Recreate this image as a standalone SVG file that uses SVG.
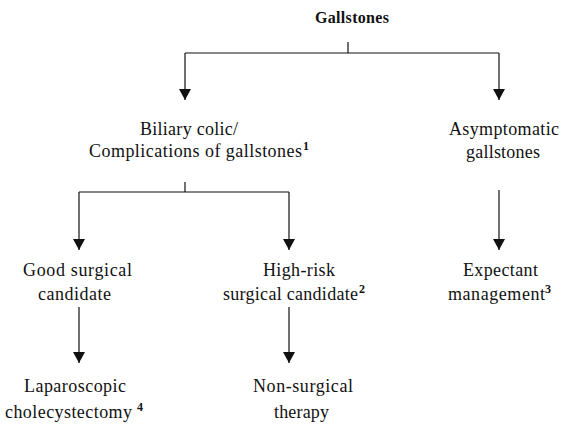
<svg xmlns="http://www.w3.org/2000/svg" width="583" height="432" viewBox="0 0 583 432">
<defs>
<style>
.t{font-family:'Times New Roman','Liberation Serif','DejaVu Serif',serif;fill:#111;font-size:18px}
.b{font-weight:bold;font-size:16px}
.sup{font-weight:bold;font-size:12px}
.c{stroke:#111;stroke-width:1.2;fill:none}
</style>
<marker id="ah" markerUnits="userSpaceOnUse" markerWidth="14" markerHeight="14" viewBox="0 0 14 14" refX="12" refY="7" orient="auto">
<path d="M1,1 L12,7 L1,13 Z" fill="#111"/>
</marker>
</defs>
<rect width="583" height="432" fill="#fff"/>
<g id="connectors">
<path class="c" d="M348,42 V53"/>
<path class="c" d="M185,53 H499"/>
<path class="c" d="M185,53 V100" marker-end="url(#ah)"/>
<path class="c" d="M499,53 V100" marker-end="url(#ah)"/>
<path class="c" d="M185,182 V192"/>
<path class="c" d="M79,192 H289"/>
<path class="c" d="M79,192 V250" marker-end="url(#ah)"/>
<path class="c" d="M289,192 V250" marker-end="url(#ah)"/>
<path class="c" d="M499,190 V250" marker-end="url(#ah)"/>
<path class="c" d="M79,307 V363" marker-end="url(#ah)"/>
<path class="c" d="M289,307 V363" marker-end="url(#ah)"/>
</g>
<g id="gallstones">
<text class="t b" x="315" y="23" textLength="74" lengthAdjust="spacing">Gallstones</text>
</g>
<g id="biliary">
<text class="t" x="140" y="135" textLength="98" lengthAdjust="spacing">Biliary colic/</text>
<text class="t" x="89" y="157" textLength="213" lengthAdjust="spacing">Complications of gallstones</text>
<text class="t sup" x="303" y="150">1</text>
</g>
<g id="asymptomatic">
<text class="t" x="449" y="135" textLength="110" lengthAdjust="spacing">Asymptomatic</text>
<text class="t" x="466" y="158" textLength="74" lengthAdjust="spacing">gallstones</text>
</g>
<g id="good">
<text class="t" x="23" y="276" textLength="109" lengthAdjust="spacing">Good surgical</text>
<text class="t" x="38" y="300" textLength="73" lengthAdjust="spacing">candidate</text>
</g>
<g id="highrisk">
<text class="t" x="263" y="276" textLength="72" lengthAdjust="spacing">High-risk</text>
<text class="t" x="223" y="300" textLength="135" lengthAdjust="spacing">surgical candidate</text>
<text class="t sup" x="359" y="293">2</text>
</g>
<g id="expectant">
<text class="t" x="463" y="276" textLength="75" lengthAdjust="spacing">Expectant</text>
<text class="t" x="448" y="300" textLength="97" lengthAdjust="spacing">management</text>
<text class="t sup" x="545" y="293">3</text>
</g>
<g id="laparoscopic">
<text class="t" x="24" y="392" textLength="102" lengthAdjust="spacing">Laparoscopic</text>
<text class="t" x="5" y="418" textLength="127" lengthAdjust="spacing">cholecystectomy</text>
<text class="t sup" x="137" y="411">4</text>
</g>
<g id="nonsurgical">
<text class="t" x="253" y="392" textLength="100" lengthAdjust="spacing">Non-surgical</text>
<text class="t" x="274" y="418" textLength="55" lengthAdjust="spacing">therapy</text>
</g>
</svg>
